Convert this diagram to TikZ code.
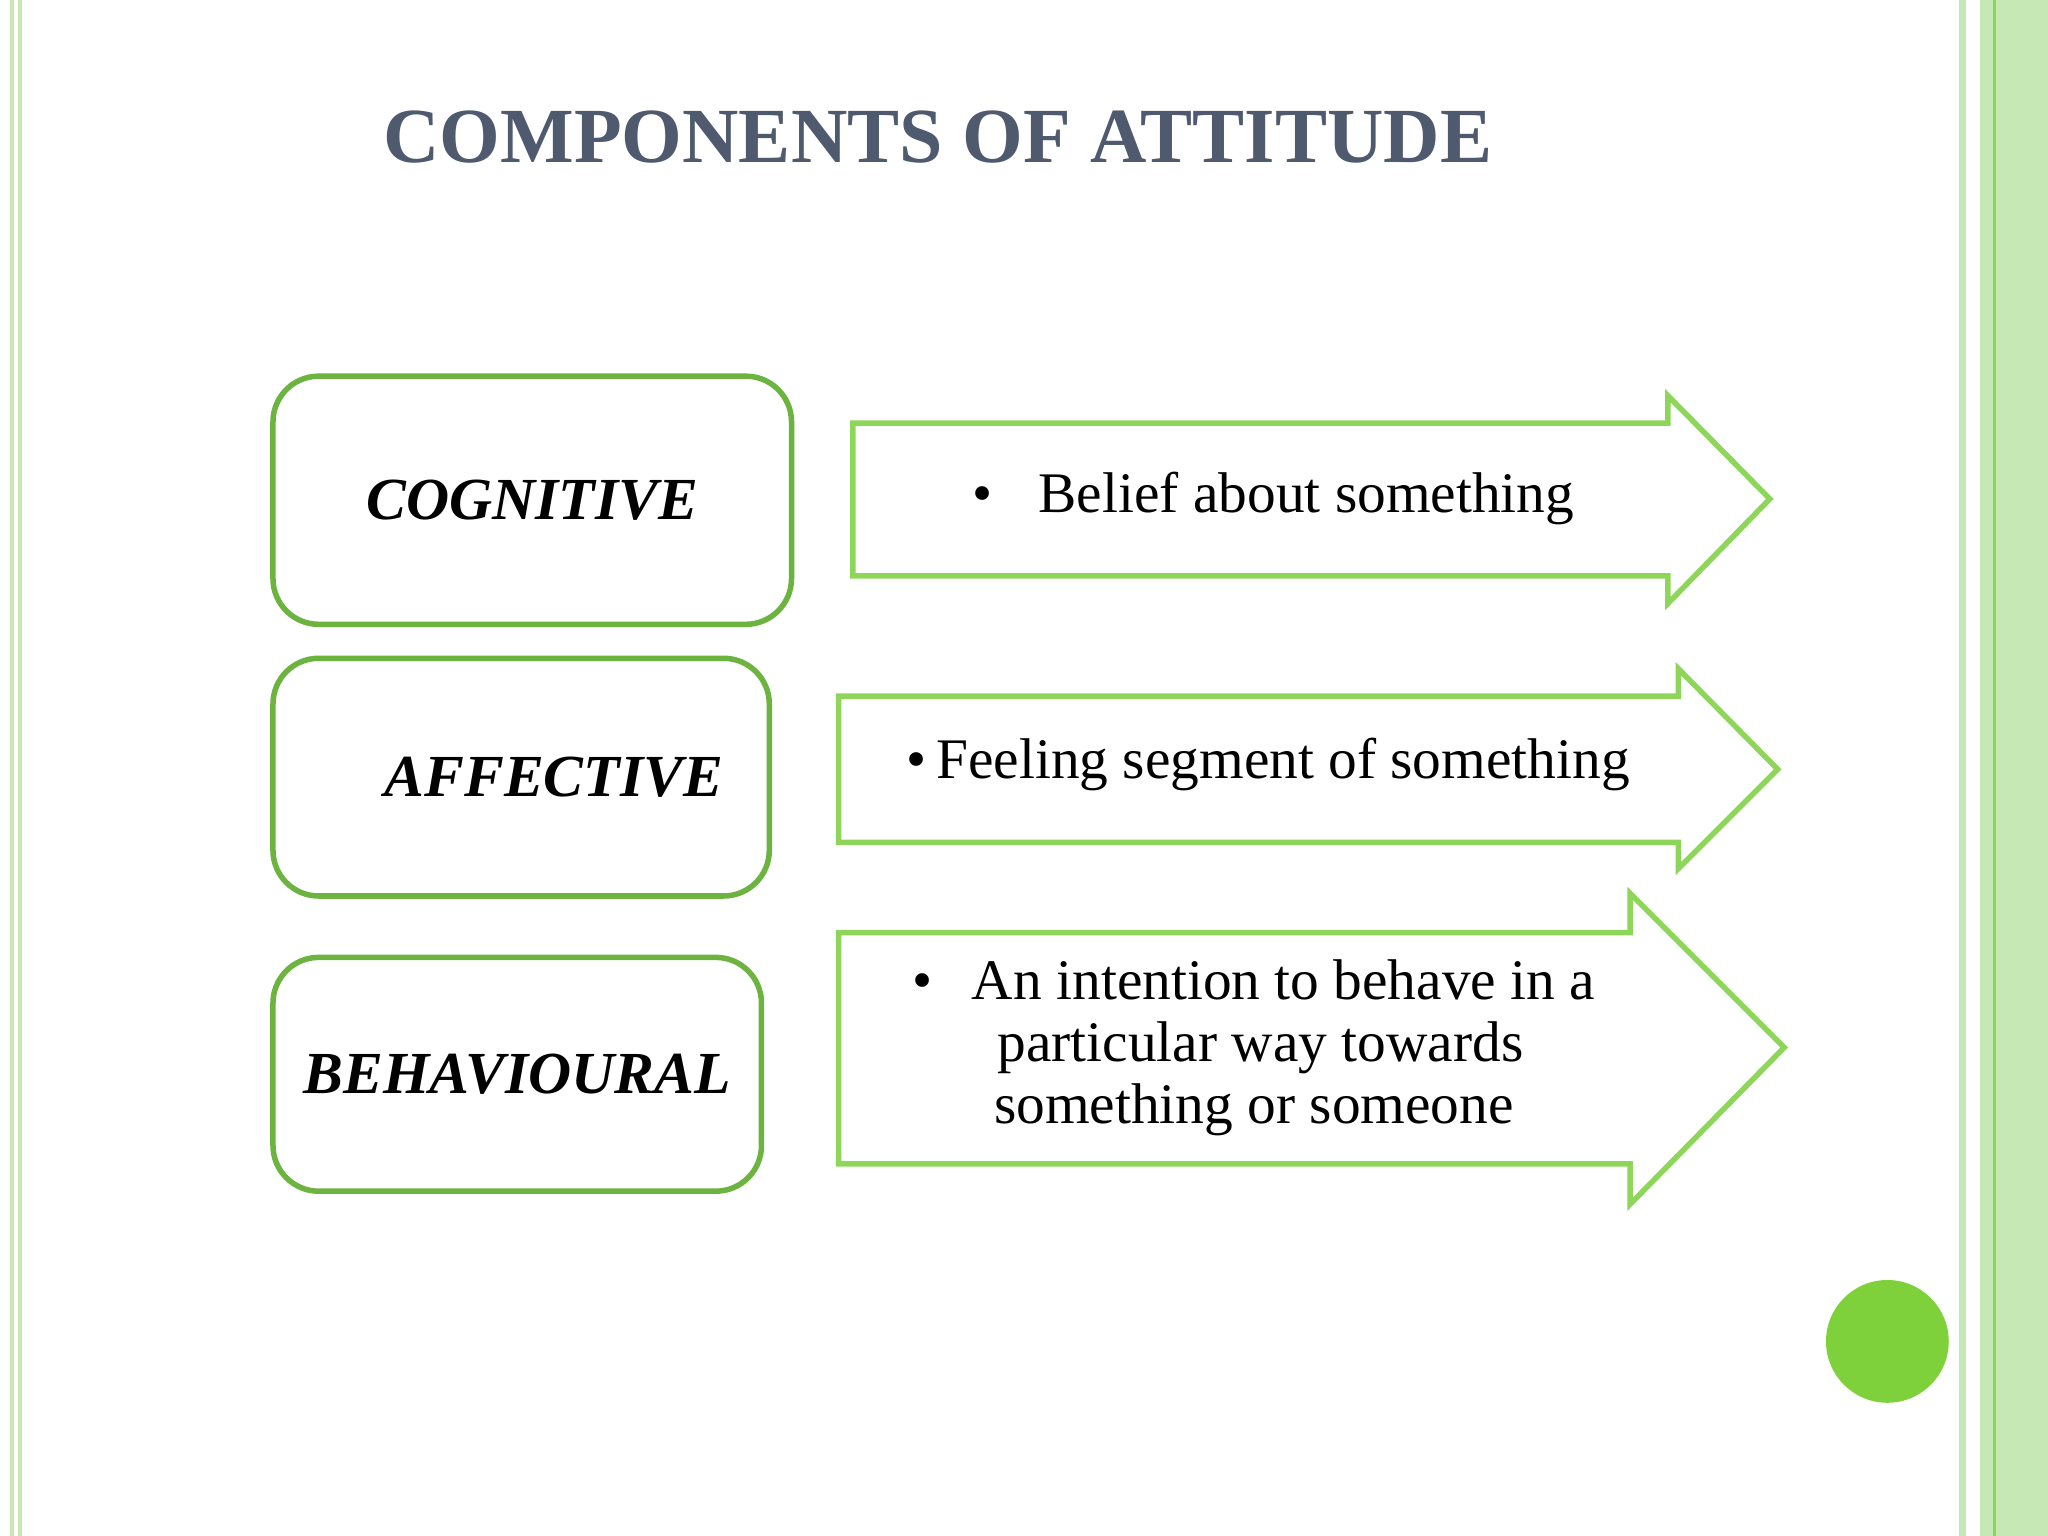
\documentclass[tikz,border=0pt]{standalone}
\usepackage{fontspec}
\setmainfont{Liberation Serif}
\usetikzlibrary{positioning}
\definecolor{boxgreen}{HTML}{6DB33F}
\definecolor{arrowgreen}{HTML}{8ED65A}
\definecolor{stripegreen}{HTML}{C6E8B4}
\definecolor{titlegray}{HTML}{4F5A6E}
\definecolor{dotgreen}{HTML}{7FD13B}
\tikzset{
  compbox/.style={draw=boxgreen,line width=1.2pt,rounded corners=0.35cm,font=\fontsize{13}{15}\selectfont\bfseries\itshape},
  arrowline/.style={draw=arrowgreen,line width=1.2pt,line join=miter},
  arrowtext/.style={align=center,font=\fontsize{12.5}{13.5}\selectfont}
}
\begin{document}
\begin{tikzpicture}[x=1cm,y=-1cm]
            \useasboundingbox (0,0) rectangle (15.68,11.76);
            % side stripes
            \fill[stripegreen] (0.08,0) rectangle (0.11,11.76);
            \fill[stripegreen] (0.14,0) rectangle (0.17,11.76);
            \fill[stripegreen] (15.00,0) rectangle (15.05,11.76);
            \fill[stripegreen] (15.16,0) rectangle (15.68,11.76);
            \draw[arrowgreen,line width=0.6pt] (15.27,0) -- (15.27,11.76);

            \node[font=\fontsize{17}{20}\selectfont\bfseries,text=titlegray] (title) at (7.18,1.05) {COMPONENTS OF ATTITUDE};

            % left boxes
            \node[compbox,minimum width=3.97cm,minimum height=1.90cm] (cog) at (4.075,3.83) {COGNITIVE};
            \node[compbox,minimum width=3.80cm,minimum height=1.82cm] (aff) at (3.99,5.95) {\hspace{0.5cm}AFFECTIVE};
            \node[compbox,minimum width=3.74cm,minimum height=1.79cm] (beh) at (3.96,8.225) {BEHAVIOURAL};

            % arrows
            \draw[arrowline] (6.53,3.24) -- (12.77,3.24) -- (12.77,3.03) -- (13.55,3.82) -- (12.77,4.62) -- (12.77,4.41) -- (6.53,4.41) -- cycle;
            \draw[arrowline] (6.42,5.33) -- (12.85,5.33) -- (12.85,5.12) -- (13.61,5.89) -- (12.85,6.65) -- (12.85,6.45) -- (6.42,6.45) -- cycle;
            \draw[arrowline] (6.42,7.14) -- (12.48,7.14) -- (12.48,6.84) -- (13.66,8.02) -- (12.48,9.22) -- (12.48,8.91) -- (6.42,8.91) -- cycle;

            \node[arrowtext] (belief) at (9.75,3.82) {\textbullet\hspace{0.35cm}Belief about something};
            \node[arrowtext] (feel) at (9.71,5.85) {\textbullet\,Feeling segment of something};
            \node[arrowtext] (intent) at (9.6,8.02) {\textbullet\hspace{0.3cm}An intention to behave in a\\\hspace{0.1cm}particular way towards\\something or someone};

            \fill[dotgreen] (14.45,10.27) circle (0.47);
\end{tikzpicture}
\end{document}
